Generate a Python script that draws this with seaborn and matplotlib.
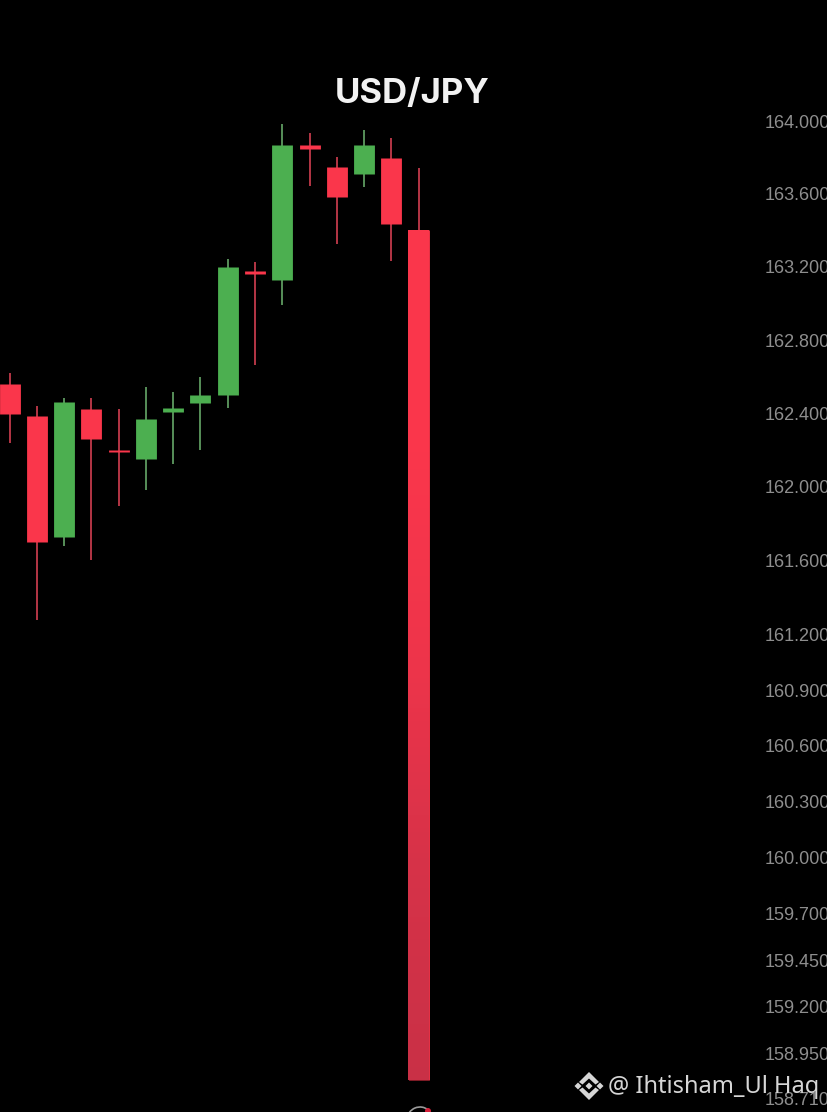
import numpy as np
import pandas as pd
import matplotlib
matplotlib.use("Agg")
import matplotlib.pyplot as plt
from matplotlib.colors import LinearSegmentedColormap
from matplotlib.patches import Polygon, Arc, Circle
from matplotlib.transforms import IdentityTransform
import seaborn as sns

# ---- data ----
candle = list(range(16))
open_ = [162.560, 162.386, 161.729, 162.424, 162.200, 162.152, 162.408, 162.457,
         162.500, 163.177, 163.128, 163.868, 163.747, 163.709, 163.797, 163.402]
close = [162.397, 161.701, 162.462, 162.261, 162.190, 162.370, 162.430, 162.500,
         163.199, 163.161, 163.868, 163.846, 163.583, 163.868, 163.435, 158.812]
high = [162.620, 162.440, 162.484, 162.484, 162.424, 162.544, 162.517, 162.598,
        163.243, 163.226, 163.984, 163.934, 163.802, 163.951, 163.907, 163.742]
low = [162.239, 161.279, 161.680, 161.604, 161.897, 161.984, 162.125, 162.201,
       162.430, 162.664, 162.991, 163.643, 163.325, 163.637, 163.232, 158.812]
tick_values = [164.0, 163.6, 163.2, 162.8, 162.4, 162.0, 161.6, 161.2, 160.9, 160.6,
               160.3, 160.0, 159.7, 159.45, 159.2, 158.95, 158.71]
tick_labels = ["164.000", "163.600", "163.200", "162.800", "162.400", "162.000",
               "161.600", "161.200", "160.900", "160.600", "160.300", "160.000",
               "159.700", "159.450", "159.200", "158.950", "158.710"]
title = "USD/JPY"
watermark = "@ Ihtisham_Ul Haq"

GREEN, RED = "#4CAF50", "#FA364B"
GREEN_W, RED_W = "#5E9A60", "#C23A4B"
W, H = 828, 1112

sns.set_theme(style="dark", rc={"axes.facecolor": "black", "figure.facecolor": "black",
                                "axes.grid": False})
plt.rcParams["font.family"] = ["Liberation Sans", "DejaVu Sans"]

fig = plt.figure(figsize=(W / 100, H / 100), dpi=100, facecolor="black")
ax = fig.add_axes([0, 0, 1, 1], facecolor="black")
ax.set_yscale("log")

direction = ["up" if c >= o else "down" for o, c in zip(open_, close)]
wicks = pd.DataFrame({
    "candle": candle * 2,
    "price": high + low,
    "dir": direction * 2,
})
bodies = pd.DataFrame({
    "candle": candle * 2,
    "price": open_ + close,
    "dir": direction * 2,
})

sns.lineplot(data=wicks, x="candle", y="price", hue="dir", units="candle",
             estimator=None, sort=False, legend=False, ax=ax,
             palette={"up": GREEN_W, "down": RED_W}, linewidth=1.3,
             solid_capstyle="butt", zorder=2)
sns.lineplot(data=bodies, x="candle", y="price", hue="dir", units="candle",
             estimator=None, sort=False, legend=False, ax=ax,
             palette={"up": GREEN, "down": RED}, linewidth=15.0,
             solid_capstyle="butt", zorder=3)

# the long last candle fades towards its foot
fade = LinearSegmentedColormap.from_list(
    "fade", ["#C93046", "#D63248", "#EE344A", "#FA364B", "#FA364B"])
half = 10.4 / 27.27
edges = np.geomspace(close[-1], open_[-1], 200)
shade = np.linspace(0, 1, 199).reshape(-1, 1)
ax.pcolormesh([candle[-1] - half, candle[-1] + half], edges, shade, cmap=fade,
              shading="flat", zorder=4, rasterized=True)

ax.set_xlim(-0.35, 30.01)
ax.set_ylim(158.64, 164.667)
ax.set_xlabel("")
ax.set_ylabel("")
ax.set_xticks([])
ax.yaxis.tick_right()
ax.set_yticks(tick_values)
ax.set_yticklabels(tick_labels)
ax.minorticks_off()
ax.tick_params(axis="y", which="major", length=0, pad=-45.5, labelsize=13,
               labelcolor="#8E8E8E")
for label in ax.get_yticklabels():
    label.set_ha("left")
for s in ax.spines.values():
    s.set_visible(False)

fig.text(412 / W, 1 - 94 / H, title, color="#F2F2F2", fontsize=25, fontweight="bold",
         family=["Inter", "DejaVu Sans"], ha="center", va="center")
fig.text(608 / W, 1 - 1087 / H, watermark, color="#D6D6D6", fontsize=17,
         family=["Noto Sans", "DejaVu Sans"], ha="left", va="center")

# exchange logo of the watermark, in pixels
px = IdentityTransform()
def poly(points):
    verts = [(x, H - y) for x, y in points]
    fig.add_artist(Polygon(verts, closed=True, transform=px, facecolor="#D6D6D6",
                           edgecolor="none"))
cx, cy = 589, 1086
poly([(cx, cy - 14), (cx + 10, cy - 4), (cx + 6.5, cy - 1.5), (cx, cy - 7.5), (cx - 6.5, cy - 1.5), (cx - 10, cy - 4)])
poly([(cx, cy + 14), (cx + 10, cy + 4), (cx + 6.5, cy + 1.5), (cx, cy + 7.5), (cx - 6.5, cy + 1.5), (cx - 10, cy + 4)])
poly([(cx, cy - 3.5), (cx + 3.5, cy), (cx, cy + 3.5), (cx - 3.5, cy)])
poly([(cx - 11, cy - 3.5), (cx - 7.5, cy), (cx - 11, cy + 3.5), (cx - 14.5, cy)])
poly([(cx + 11, cy - 3.5), (cx + 14.5, cy), (cx + 11, cy + 3.5), (cx + 7.5, cy)])

# cropped round badge at the foot of the picture
fig.add_artist(Arc((420, H - 1120), 26, 26, theta1=50, theta2=175, transform=px,
                   edgecolor="#9A9A9A", linewidth=1.2))
fig.add_artist(Circle((428, H - 1111), 3, transform=px, facecolor="#D5203A", edgecolor="none"))

fig.savefig("out.png", dpi=100, facecolor="black")
